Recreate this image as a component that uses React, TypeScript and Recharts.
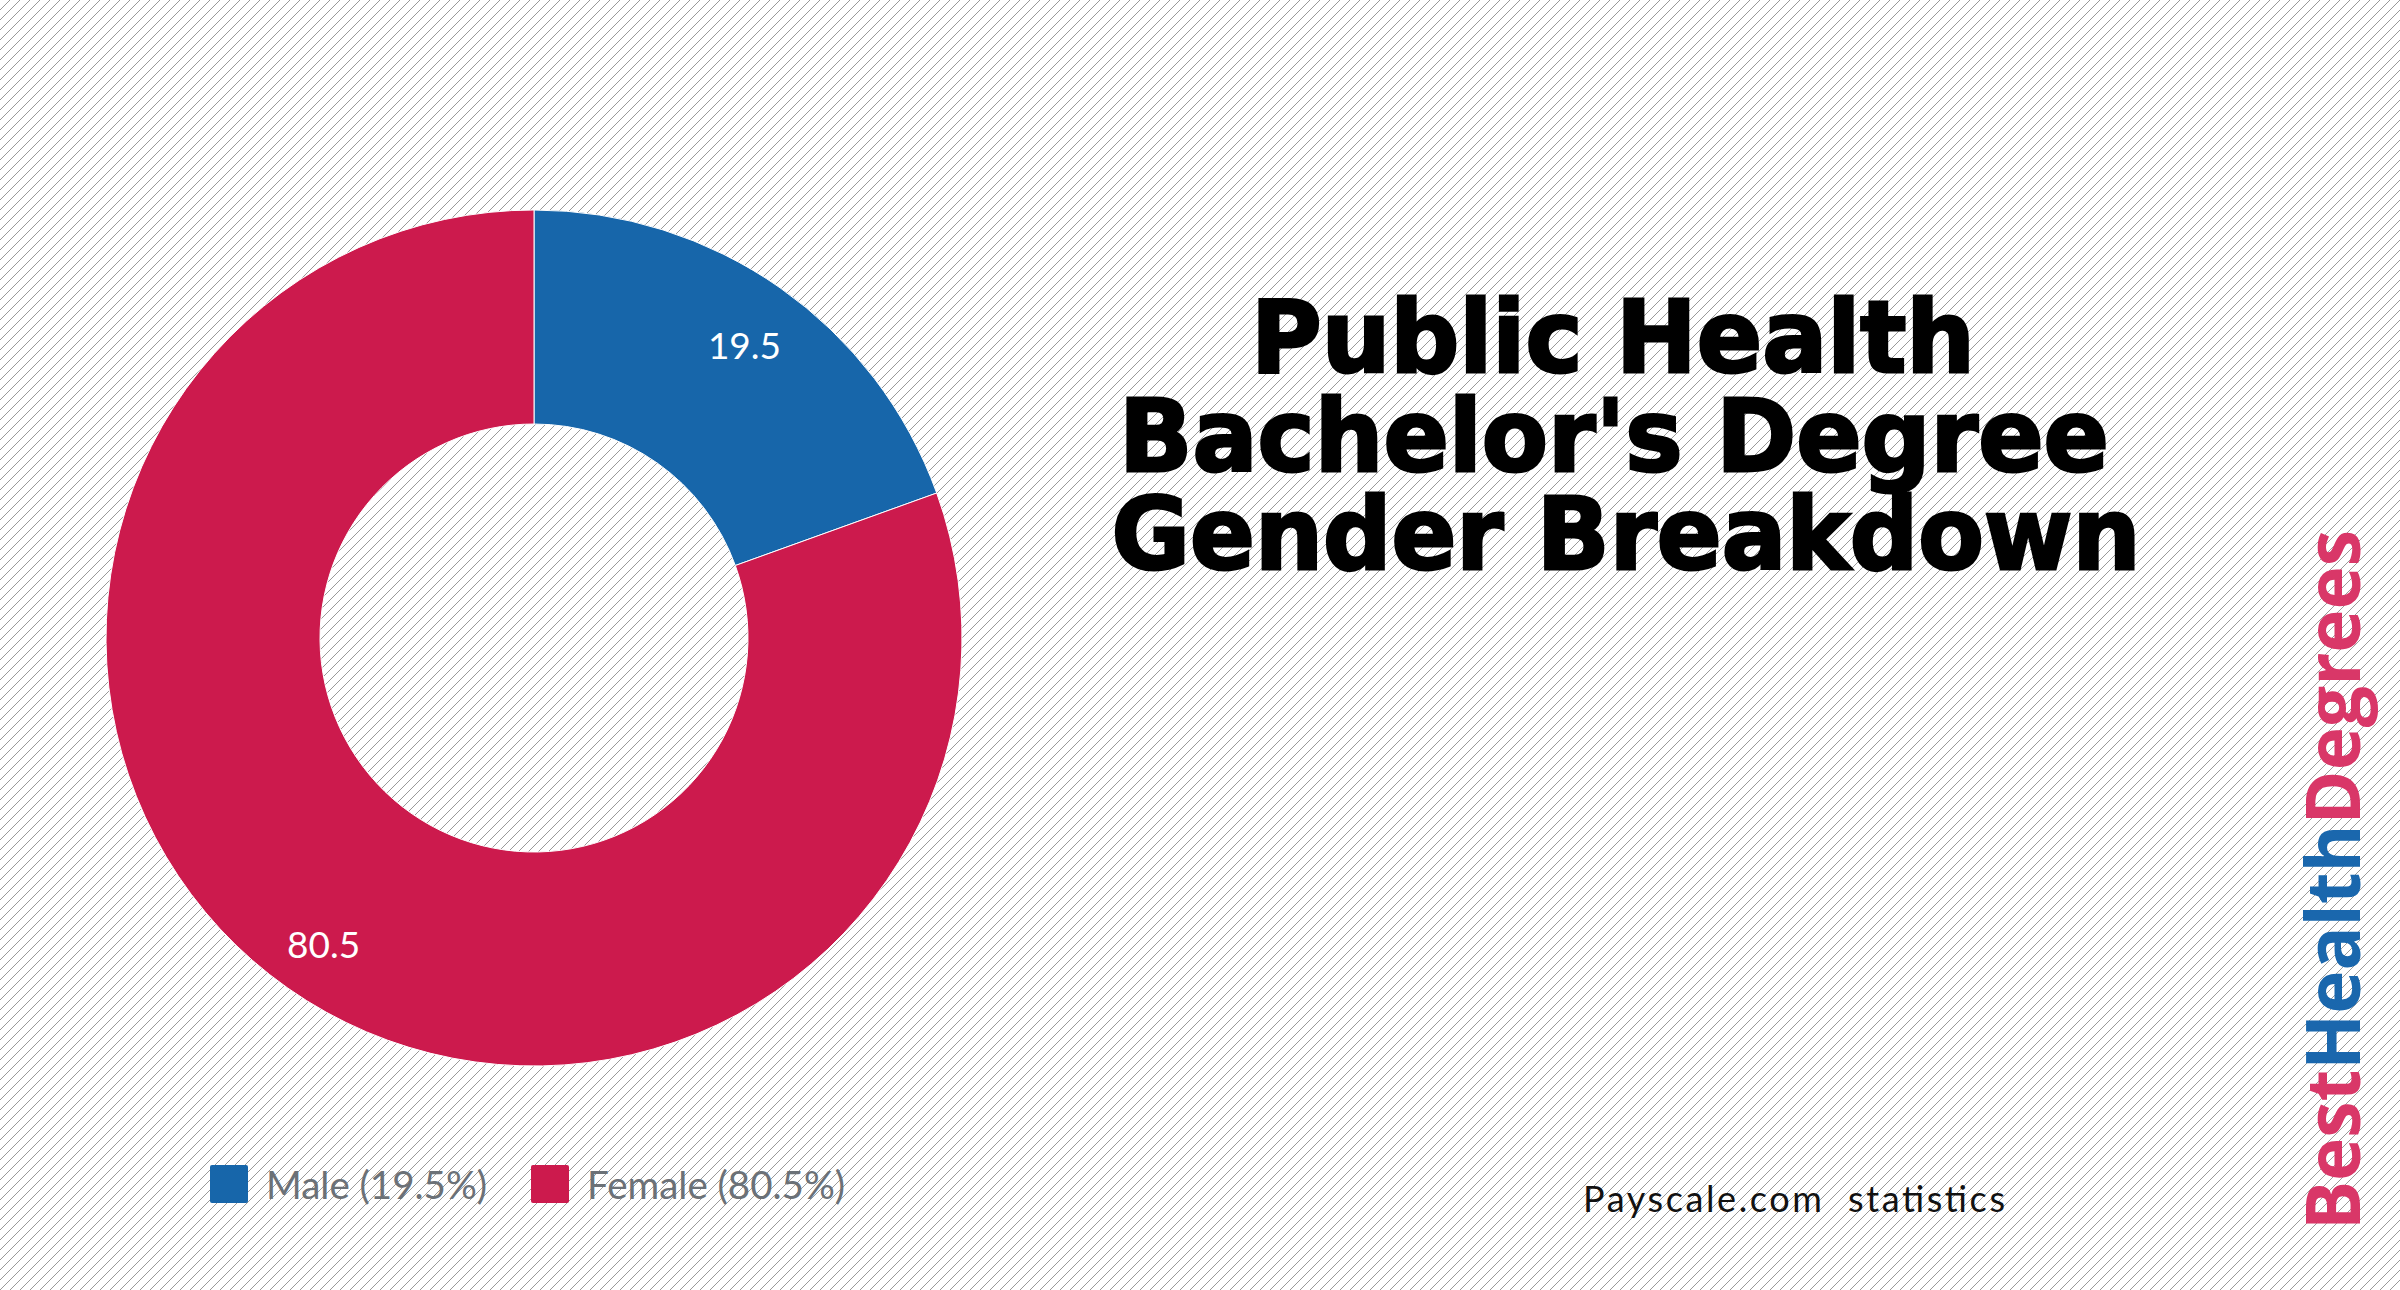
import React from 'react';
import { PieChart, Pie, Cell, Legend } from 'recharts';

const categories = ['Male', 'Female'];
const shares = [19.5, 80.5];
const sliceColors = ['#1766AA', '#CC1A4D'];
const titleLines = ['Public Health', "Bachelor's Degree", 'Gender Breakdown'];
const sourceNote = 'Payscale.com  statistics';
const brandParts = ['Best', 'Health', 'Degrees'];

const data = categories.map((name, i) => ({ name, value: shares[i] }));

const RAD = Math.PI / 180;

const renderLabel = (props: any) => {
  const { cx, cy, midAngle, value } = props;
  const r = 366;
  const x = cx + r * Math.cos(-midAngle * RAD);
  const y = cy + r * Math.sin(-midAngle * RAD) + 6;
  return (
    <text
      x={x}
      y={y}
      fill="#ffffff"
      textAnchor="middle"
      dominantBaseline="central"
      fontFamily="Lato, 'Open Sans', sans-serif"
      fontSize={37}
    >
      {value}
    </text>
  );
};

const LegendContent = (props: any) => {
  const payload = props.payload || [];
  const ordered = categories
    .map((c) => payload.find((p: any) => p.value === c))
    .filter(Boolean);
  return (
    <div style={{ display: 'flex', alignItems: 'center', fontFamily: "Lato, 'Open Sans', sans-serif" }}>
      {ordered.map((entry: any, i: number) => {
        const idx = categories.indexOf(entry.value);
        return (
          <div key={i} style={{ display: 'flex', alignItems: 'center', marginRight: 44 }}>
            <div
              style={{
                width: 38,
                height: 38,
                background: entry.color,
                borderRadius: 2,
                marginRight: 18,
              }}
            />
            <span style={{ fontSize: 38.5, color: '#6B7177', whiteSpace: 'pre', lineHeight: '40px' }}>
              {`${entry.value} (${shares[idx]}%)`}
            </span>
          </div>
        );
      })}
    </div>
  );
};

export default function App() {
  const titleCenters = [1613, 1614, 1626];
  const titleBaselines = [372, 471, 569];
  const titleWidths = [724, 990, 1029];
  return (
    <div style={{ position: 'absolute', left: 0, top: 0, width: 2400, height: 1290, background: '#fff', overflow: 'hidden' }}>
      <svg width={2400} height={1290} style={{ position: 'absolute', left: 0, top: 0 }}>
        <defs>
          <pattern id="hatch" patternUnits="userSpaceOnUse" width={10} height={10}>
            <path d="M0,10 L10,0 M-2,2 L2,-2 M8,12 L12,8" stroke="#999999" strokeWidth={1} />
          </pattern>
        </defs>
        <rect x={0} y={0} width={2400} height={1290} fill="url(#hatch)" />
      </svg>
      <div style={{ position: 'absolute', left: 0, top: 0 }}>
        <PieChart width={2400} height={1290} margin={{ top: 0, right: 0, bottom: 0, left: 0 }}>
          <Pie
            data={data}
            dataKey="value"
            nameKey="name"
            cx={534}
            cy={638}
            innerRadius={214}
            outerRadius={428}
            startAngle={90}
            endAngle={-270}
            stroke="#ffffff"
            strokeWidth={1}
            label={renderLabel}
            labelLine={false}
            isAnimationActive={false}
          >
            {data.map((d, i) => (
              <Cell key={d.name} fill={sliceColors[i]} />
            ))}
          </Pie>
          <Legend
            content={<LegendContent />}
            wrapperStyle={{ position: 'absolute', left: 210, top: 1164, width: 900, height: 40 }}
          />
        </PieChart>
      </div>
      <svg width={2400} height={1290} style={{ position: 'absolute', left: 0, top: 0, pointerEvents: 'none' }}>
        {titleLines.map((line, i) => (
          <text
            key={line}
            x={titleCenters[i]}
            y={titleBaselines[i]}
            textAnchor="middle"
            textLength={titleWidths[i]}
            lengthAdjust="spacingAndGlyphs"
            fontFamily="'DejaVu Sans', sans-serif"
            fontWeight={700}
            fontSize={100}
            fill="#000"
            stroke="#000"
            strokeWidth={3}
          >
            {line}
          </text>
        ))}
        <text
          x={1583}
          y={1212}
          fontFamily="Lato, 'Open Sans', sans-serif"
          fontSize={36}
          fill="#111"
          style={{ whiteSpace: 'pre' }}
          textLength={422}
        >
          {sourceNote}
        </text>
        <text
          transform="translate(2360,1230) rotate(-90)"
          x={0}
          y={0}
          fontFamily="'Open Sans', sans-serif"
          fontWeight={700}
          fontSize={76}
          textLength={700}
          lengthAdjust="spacingAndGlyphs"
        >
          <tspan fill="#D93768">{brandParts[0]}</tspan>
          <tspan fill="#1A67AD">{brandParts[1]}</tspan>
          <tspan fill="#D93768">{brandParts[2]}</tspan>
        </text>
      </svg>
    </div>
  );
}
